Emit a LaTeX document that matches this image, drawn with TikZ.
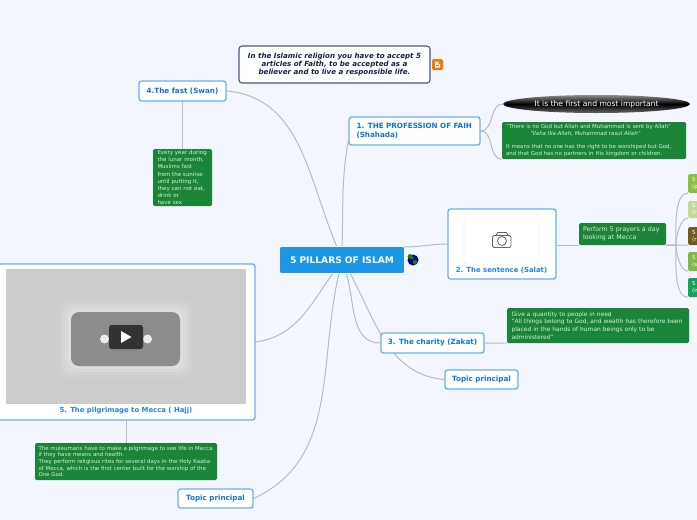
\documentclass[tikz,border=0pt]{standalone}
\usepackage{fontspec}
\usetikzlibrary{shapes.geometric,backgrounds}
\setmainfont{DejaVu Sans}
\definecolor{pagebg}{HTML}{F3F6FF}
\definecolor{topicblue}{HTML}{1173D8}
\definecolor{captionblue}{HTML}{2284E6}
\definecolor{topicline}{HTML}{6AAEF2}
\definecolor{rootblue}{HTML}{1B96E8}
\definecolor{leafgreen}{HTML}{1A8536}
\definecolor{leaftext}{HTML}{DCEEDC}
\definecolor{notenavy}{HTML}{101F52}
\definecolor{noteline}{HTML}{4A5A80}
\definecolor{linkgrey}{HTML}{BBBBBD}
\definecolor{prayerA}{HTML}{8BBF3F}
\definecolor{prayerB}{HTML}{C5D69A}
\definecolor{prayerC}{HTML}{6B5D1A}
\definecolor{prayerD}{HTML}{7FBA45}
\definecolor{prayerE}{HTML}{13A35A}
\tikzset{
	topic/.style={draw=topicline, line width=1.3pt, fill=white, rounded corners=2.5pt, inner sep=0pt,
		text=topicblue, font=\fontsize{7.2}{8.6}\selectfont\bfseries},
	leaf/.style={fill=leafgreen, rounded corners=1.5pt, inner sep=0pt, text=leaftext, align=left,
		font=\fontsize{5.5}{7.1}\selectfont},
	side/.style={rounded corners=1.5pt, inner sep=0pt, minimum width=30pt, minimum height=19pt, text=white,
		align=left, anchor=west, text width=22pt, font=\fontsize{5.5}{7}\selectfont},
	link/.style={draw=linkgrey, line width=1pt},
}
\begin{document}
\begin{tikzpicture}[x=1pt, y=-1pt]
	\useasboundingbox (0, 0) rectangle (697, 520);

	\node[fill=rootblue, draw=white, line width=.8pt, rounded corners=2pt, minimum width=125pt, minimum height=27pt, inner sep=0pt,
		text=white, font=\fontsize{9.1}{10}\selectfont\bfseries] (root) at (342, 260) {5 PILLARS OF ISLAM};
	\node[circle, fill=blue!55!black, minimum size=11pt, inner sep=0pt] (globe) at (413, 260) {};
	\fill[green!55!black] (410, 256.5) circle (2.4) (415, 262) circle (2.2) (412.5, 258) circle (1.6);

	\node[draw=noteline, line width=1.1pt, fill=white, rounded corners=3pt, minimum width=191pt, minimum height=37pt, inner sep=0pt,
		text=notenavy, align=center, font=\fontsize{7.1}{8.4}\selectfont\bfseries\itshape] (note) at (334.5, 64.5)
		{In the Islamic religion you have to accept 5\\articles of Faith, to be accepted as a\\believer and to live a responsible life.};
	\node[fill=orange!90!red, rounded corners=1.5pt, minimum size=11pt, inner sep=0pt] (blog) at (437.5, 64.5) {};
	\fill[white] (435, 61.5) rectangle (438.5, 64) (435, 64) rectangle (440, 67.5);
	\fill[orange!90!red] (436.2, 65) rectangle (438.8, 66.3);

	\node[topic, minimum width=87pt, minimum height=20pt] (fast) at (182.5, 91) {4.The fast (Swan)};
	\node[leaf, minimum width=59pt, minimum height=57pt, text width=50pt] (fasttext) at (182.5, 177.5)
		{Every year during\\the lunar month,\\Muslims fast\\from the sunrise\\until putting it,\\they can not eat,\\drink or\\have sex};

	\node[topic, minimum width=131pt, minimum height=28pt, align=left, text width=116pt] (faith) at (414.5, 131)
		{1. THE PROFESSION OF FAIH\\(Shahada)};
	\node[ellipse, minimum width=187pt, minimum height=18pt, inner sep=0pt, top color=black!45, bottom color=black!60, middle color=black,
		text=white, font=\fontsize{7.6}{8}\selectfont] (first) at (596.5, 104) {It is the first and most important};
	\node[leaf, minimum width=184pt, minimum height=37pt, text width=176pt, font=\fontsize{5.45}{6.9}\selectfont] (faithtext) at (594, 140.5)
		{"There is no God but Allah and Muhammad is sent by Allah"\\
		\hspace*{24pt}{\itshape "Ilaha Illa Allah, Muhammad rasul Allah"}\\[6.9pt]
		It means that no one has the right to be worshiped but God,\\and that God has no partners in His kingdom or children.};

	\node[topic, minimum width=108pt, minimum height=70pt] (salat) at (502, 244) {};
	\node[draw=black!10, fill=white, rounded corners=3pt, minimum width=75pt, minimum height=50pt, inner sep=0pt] (salatpic) at (501.5, 239) {};
	\node[text=captionblue, inner sep=0pt, font=\fontsize{6.9}{8}\selectfont\bfseries] (salatname) at (501.5, 270.5) {2. The sentence (Salat)};
	\draw[black!60, line width=.8pt, rounded corners=1.5pt] (492.5, 235.5) rectangle (511, 247.5);
	\draw[black!60, line width=.8pt] (496, 235.5) -- (497.5, 232.5) -- (506.5, 232.5) -- (508, 235.5);
	\node[draw=black!60, line width=.8pt, circle, minimum size=9pt, inner sep=0pt] (lens) at (502, 241) {};

	\node[leaf, minimum width=87pt, minimum height=22pt, text width=79pt, font=\fontsize{6.3}{8}\selectfont] (perform) at (622.5, 234)
		{Perform 5 prayers a day\\looking at Mecca};
	\node[side, fill=prayerA] (prayer1) at (688, 183.5) {S\\(p};
	\node[side, fill=prayerB, minimum height=17pt] (prayer2) at (688, 209.5) {S\\(r};
	\node[side, fill=prayerC, minimum height=18pt] (prayer3) at (688, 236) {S\\(r};
	\node[side, fill=prayerD] (prayer4) at (688, 261.5) {S\\(s};
	\node[side, fill=prayerE] (prayer5) at (688, 287.5) {S\\(n};

	\node[topic, minimum width=103pt, minimum height=20pt] (zakat) at (432.5, 343) {3. The charity (Zakat)};
	\node[leaf, minimum width=182pt, minimum height=35pt, text width=173pt, font=\fontsize{5.95}{7.6}\selectfont] (zakattext) at (598, 325.5)
		{Give a quantity to people in need\\"All things belong to God, and wealth has therefore been\\placed in the hands of human beings only to be\\administered"};
	\node[topic, minimum width=73pt, minimum height=19pt] (topicright) at (481.5, 379.5) {Topic principal};

	\node[topic, minimum width=262pt, minimum height=156pt] (hajj) at (124, 342) {};
	\node[fill=black!20, minimum width=240pt, minimum height=135pt, inner sep=0pt] (video) at (126, 336.5) {};
	\foreach \glow/\shade in {12/19, 9/17, 6/15, 3/13} {
		\fill[black!\shade, rounded corners=9pt] (71-\glow, 312-\glow) rectangle (180+\glow, 366+\glow);
	}
	\node[fill=black!45, rounded corners=8pt, minimum width=109pt, minimum height=54pt, inner sep=0pt] (frame) at (125.5, 339) {};
	\node[circle, fill=black!8, minimum size=9pt, inner sep=0pt] (dotleft) at (104.5, 339) {};
	\node[circle, fill=black!8, minimum size=9pt, inner sep=0pt] (dotright) at (147.5, 339) {};
	\node[fill=black!80, rounded corners=2.5pt, minimum width=34pt, minimum height=24pt, inner sep=0pt] (play) at (126, 337) {};
	\fill[white] (121, 331) -- (131.5, 337) -- (121, 343) -- cycle;
	\node[text=captionblue, inner sep=0pt, font=\fontsize{6.9}{8}\selectfont\bfseries] (hajjname) at (126, 411) {5. The pilgrimage to Mecca ( Hajj)};
	\node[leaf, minimum width=182pt, minimum height=37pt, text width=175pt, font=\fontsize{5.45}{6.6}\selectfont] (hajjtext) at (126, 461.5)
		{The muleumans have to make a pilgrimage to see life in Mecca\\if they have means and health.\\They perform religious rites for several days in the Holy Kaaba\\of Mecca, which is the first center built for the worship of the\\One God.};
	\node[topic, minimum width=75pt, minimum height=19pt] (topicleft) at (215.5, 498.5) {Topic principal};

	\coordinate (rootup) at (342, 247);
	\coordinate (rootfast) at (337, 247);
	\coordinate (rootside) at (404, 247);
	\coordinate (rootdown1) at (333, 273);
	\coordinate (rootdown2) at (339, 273);
	\coordinate (rootdown3) at (346, 273);
	\coordinate (rootdown4) at (350, 273);
	\coordinate (fork) at (676, 245);

	\begin{scope}[on background layer]
	\fill[pagebg] (0, 0) rectangle (697, 520);
	\draw[link] (rootup) to[out=88, in=-100] (faith.188);
	\draw[link] (rootfast) to[out=113, in=-5] (fast.east);
	\draw[link] (rootside) to[out=0, in=180] (salat.west);
	\draw[link] (rootdown1) to[out=-125, in=8] (hajj.east);
	\draw[link] (rootdown2) to[out=-103, in=25] (topicleft.east);
	\draw[link] (rootdown3) to[out=-72, in=180] (zakat.west);
	\draw[link] (rootdown4) to[out=-62, in=175] (topicright.west);

	\draw[link] (faith.east) to[out=0, in=180] (first.west);
	\draw[link] (faith.east) to[out=0, in=180] (faithtext.south west);
	\draw[link] (fast.south) to (fasttext.north);
	\draw[link] (hajj.south -| hajjtext.north) to (hajjtext.north);
	\draw[link] (zakat.east) to (zakattext.south west);
	\draw[link] (salat.east |- perform.south) to (perform.south west);
	\draw[link, line width=1.4pt] (perform.south east) to (fork);
	\draw[link] (fork) to[out=90, in=180, looseness=.7] (prayer1.south west);
	\draw[link] (fork) to[out=90, in=180, looseness=.7] (prayer2.south west);
	\draw[link] (fork) to (prayer3.south west);
	\draw[link] (fork) to[out=-90, in=180, looseness=.7] (prayer4.south west);
	\draw[link] (fork) to[out=-90, in=180, looseness=.7] (prayer5.south west);
	\end{scope}
\end{tikzpicture}
\end{document}
